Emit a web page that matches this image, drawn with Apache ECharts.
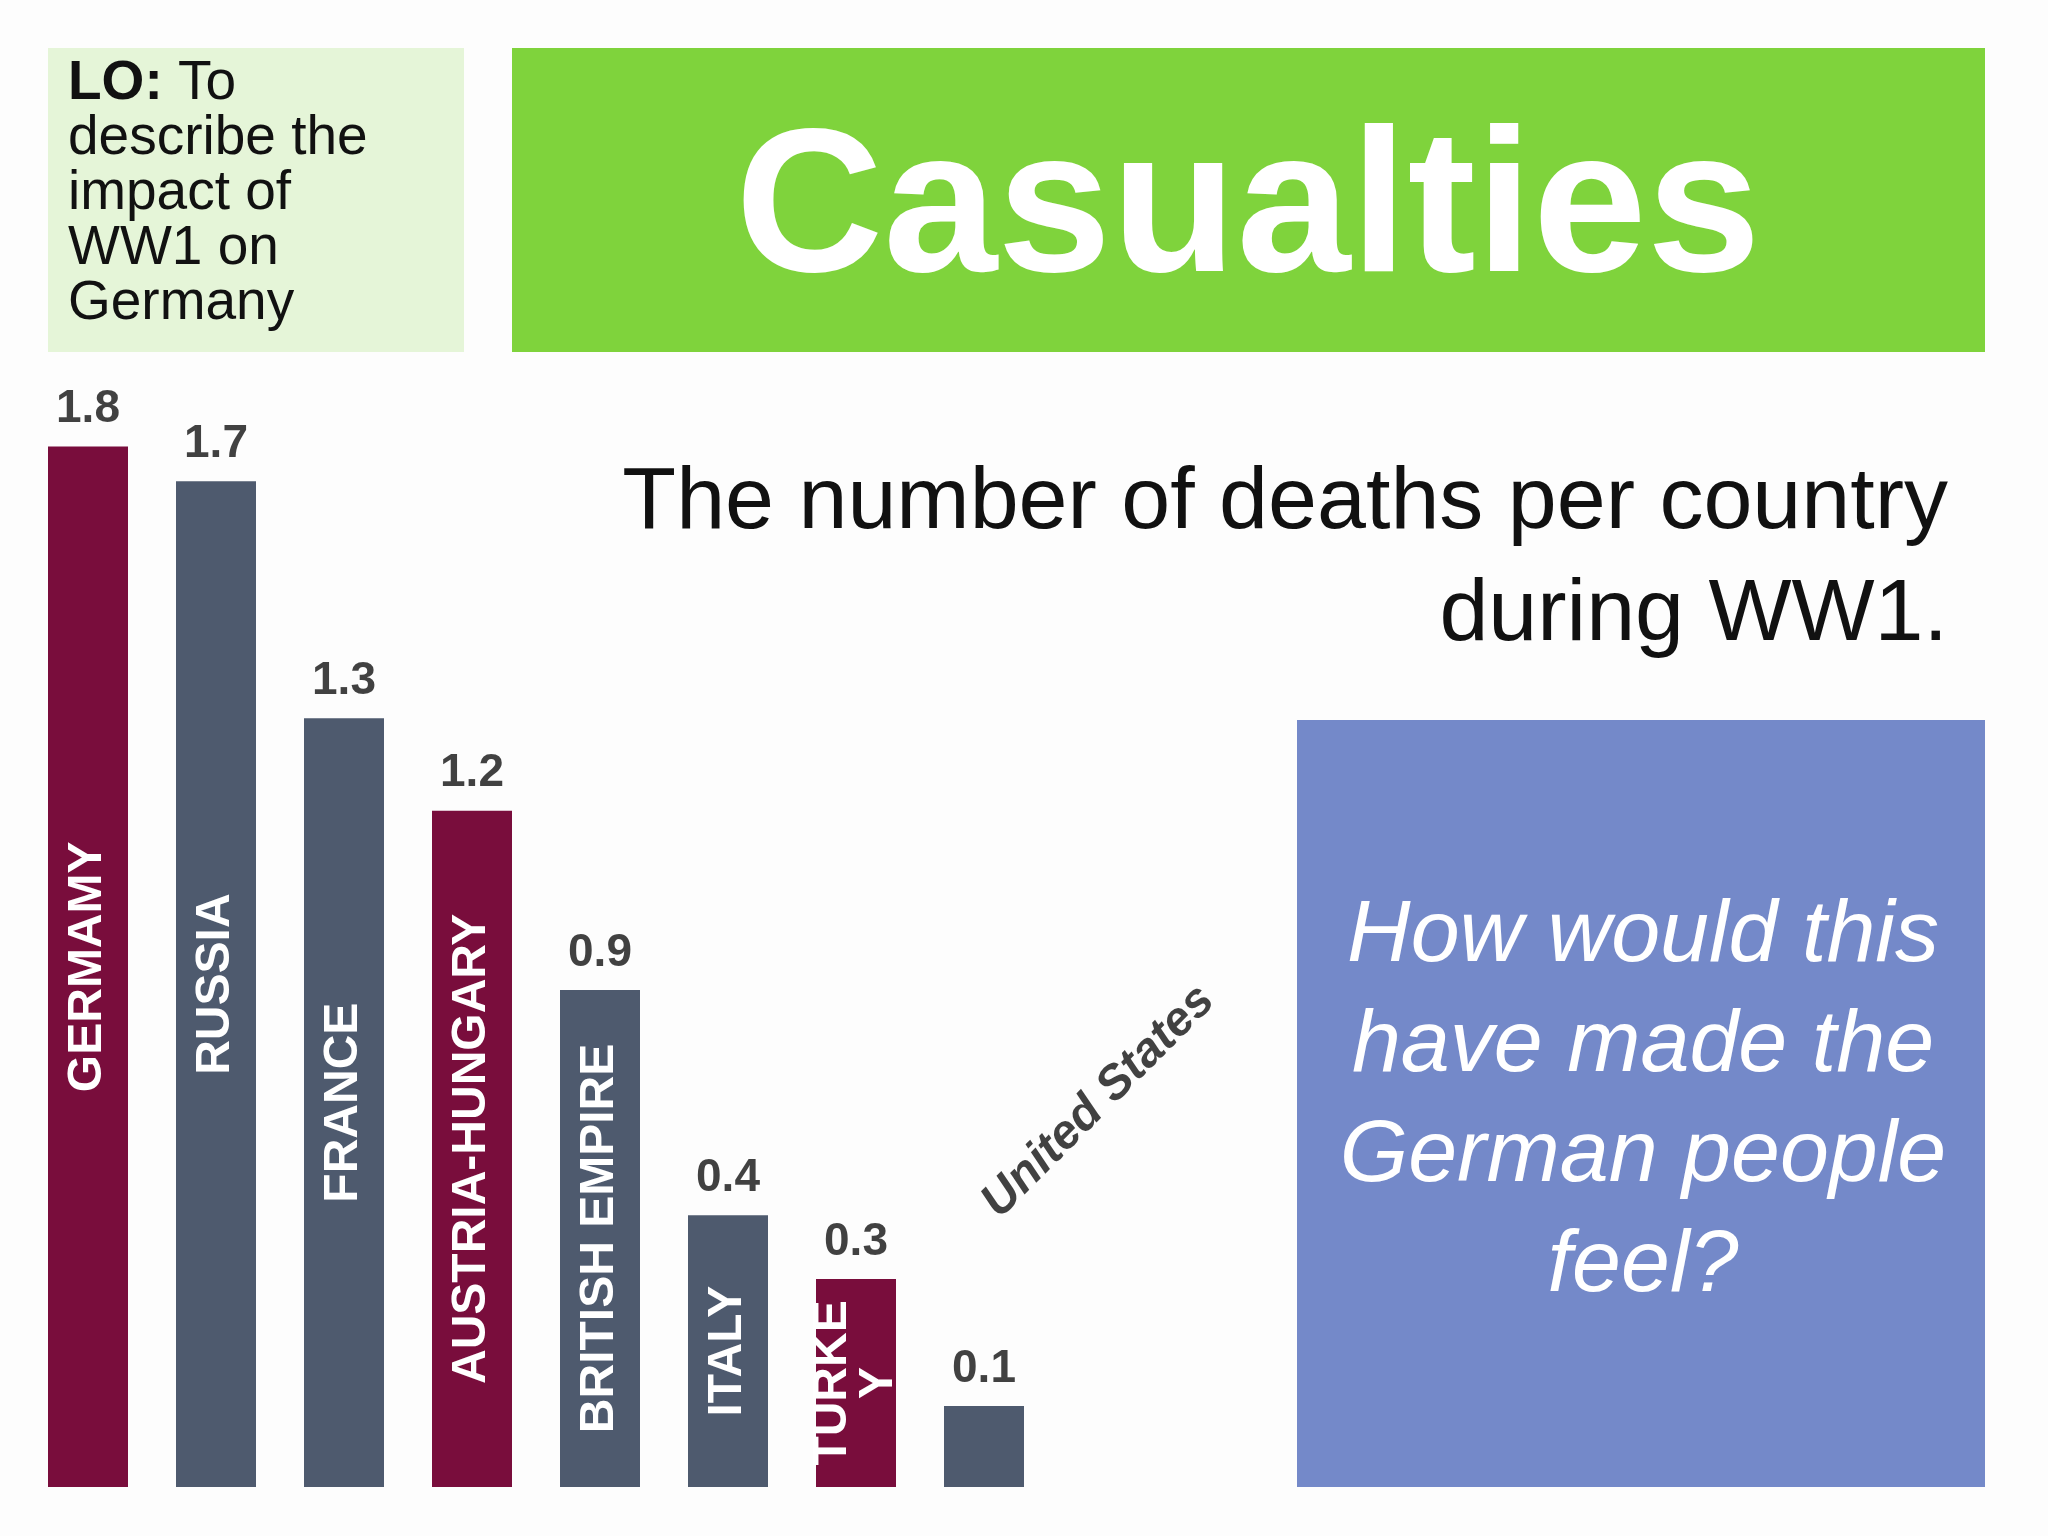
<!DOCTYPE html>
<html><head><meta charset="utf-8">
<script src="https://cdn.jsdelivr.net/npm/echarts@6/dist/echarts.min.js"></script>
<style>html,body{margin:0;background:#fdfdfd}#c{width:2048px;height:1536px}</style>
</head><body><div id="c"></div>
<script>
const countries = ['GERMAMY','RUSSIA','FRANCE','AUSTRIA-HUNGARY','BRITISH EMPIRE','ITALY','TURKE\nY','United States'];
const deaths = [1.8, 1.74, 1.33, 1.17, 0.86, 0.47, 0.36, 0.14];
const deathLabels = ['1.8','1.7','1.3','1.2','0.9','0.4','0.3','0.1'];
const centralPowers = [true,false,false,true,false,false,true,false];
const usNoteValue = [null,null,null,null,null,null,null,0.62];

const MAROON='#790d3c', SLATE='#4e5a6e';
const chart = echarts.init(document.getElementById('c'));
chart.setOption({
  backgroundColor:'#fdfdfd',
  animation:false,
  grid:{left:24,top:331,width:1024,bottom:49},
  xAxis:{type:'category',data:countries,show:false},
  yAxis:{type:'value',min:0,max:2,show:false},
  graphic:[
    {type:'rect',shape:{x:48,y:48,width:416,height:304},style:{fill:'#e5f5d8'}},
    {type:'text',left:68,top:56,style:{rich:{b:{fontWeight:'bold',fontSize:55,fontFamily:'Liberation Sans',fill:'#111',lineHeight:55},n:{fontSize:55,fontFamily:'Liberation Sans',fill:'#111',lineHeight:55}},text:'{b|LO:}{n| To}\n{n|describe the}\n{n|impact of}\n{n|WW1 on}\n{n|Germany}'}},
    {type:'rect',shape:{x:512,y:48,width:1473,height:304},style:{fill:'#7fd33c'}},
    {type:'text',x:1248,y:214,style:{text:'Casualties',fill:'#fff',fontSize:205,fontWeight:'bold',fontFamily:'Liberation Sans',align:'center',verticalAlign:'middle'}},
    {type:'text',x:1948,y:560,style:{text:'The number of deaths per country\nduring WW1.',fill:'#111',fontSize:88,fontFamily:'Liberation Sans',align:'right',verticalAlign:'middle',lineHeight:112}},
    {type:'rect',shape:{x:1297,y:720,width:688,height:767},style:{fill:'#7489c9'}},
    {type:'text',x:1643,y:1102,style:{text:'How would this\nhave made the\nGerman people\nfeel?',fill:'#fff',fontSize:88,fontStyle:'italic',fontFamily:'Liberation Sans',align:'center',verticalAlign:'middle',lineHeight:110}}
  ],
  series:[
    {type:'bar',barWidth:80,
     data:deaths.map((v,i)=>({value:v,itemStyle:{color:centralPowers[i]?MAROON:SLATE}})),
     label:{show:true,position:'inside',rotate:90,color:'#fff',fontWeight:'bold',fontSize:48,fontFamily:'Liberation Sans',lineHeight:46,
       formatter:p=>p.dataIndex===7?'':countries[p.dataIndex]}},
    {type:'scatter',symbolSize:0,data:deaths,
     label:{show:true,position:'top',distance:14,color:'#111',fontWeight:'bold',fontSize:46,fontFamily:'Liberation Sans',
       formatter:p=>deathLabels[p.dataIndex]}},
    {type:'scatter',symbolSize:0,data:usNoteValue,
     label:{show:true,position:'inside',rotate:45,color:'#111',fontWeight:'bold',fontStyle:'italic',fontSize:48,fontFamily:'Liberation Sans',
       offset:[100,62],formatter:()=>countries[7]}}
  ]
});
</script></body></html>
